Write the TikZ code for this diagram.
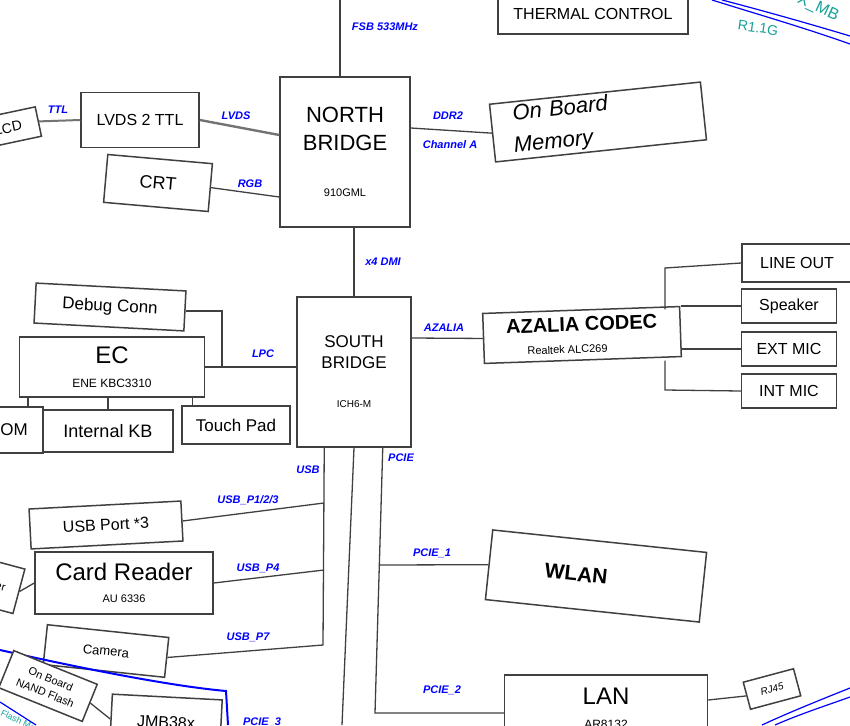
\documentclass[tikz,border=0pt]{standalone}
\usepackage{fontspec}
\setmainfont{Liberation Sans}
\usepackage{xcolor}
\usetikzlibrary{positioning,calc}
\definecolor{revteal}{RGB}{20,160,150}
\newcommand{\fsz}[2]{\fontsize{#1}{#2}\selectfont}

\begin{document}
\begin{tikzpicture}[x=1pt,y=-1pt,
    blk/.style={draw=black!75, line width=1.5pt, fill=white, inner sep=2pt, align=center},
    bus/.style={text=blue, font=\fsz{11}{12}\bfseries\itshape},
    wire/.style={black!75, line width=1.3pt}]
    \useasboundingbox (0,0) rectangle (850,725);
    \clip (0,0) rectangle (850,725);

    % North bridge and its links
    \node[blk, minimum width=130pt, minimum height=150pt, font=\fsz{22}{28}] (nb) at (345,152)
        {NORTH\\BRIDGE\\[18pt]{\fsz{11}{13}910GML}};
    \coordinate (fsb) at (340,0);
    \draw[wire] (fsb) -- (nb.north -| fsb);
    \node[bus] (fsblbl) at (385,27) {FSB 533MHz};

    \node[blk, minimum width=190pt, minimum height=40pt, font=\fsz{16}{18}] (thermal) at (593,14)
        {THERMAL CONTROL};
    \node[text=revteal, rotate=-8, font=\fsz{14}{16}] (rev) at (758,28) {R1.1G};
    \node[text=revteal, rotate=-25, font=\fsz{16}{18}] (mbname) at (818,8) {X\_MB};
    \draw[blue, line width=1.2pt] (712,0) .. controls (760,15) and (805,28) .. (850,44);
    \draw[blue, line width=1.2pt] (722,0) .. controls (768,12) and (810,24) .. (850,36);

    \node[blk, minimum height=58pt, rotate=6, align=left, text width=208pt,
          font=\fsz{22}{32}\itshape] (mem) at (598,122)
        {\hspace*{20pt}On Board\\\hspace*{18pt}Memory};
    \draw[wire] ([yshift=24pt]nb.east) -- (mem.west);
    \node[bus] (ddr) at (448,116) {DDR2};
    \node[bus] (chan) at (450,145) {Channel A};

    % Display side
    \node[blk, minimum width=118pt, minimum height=55pt, font=\fsz{16}{18}] (lvds) at (140,120)
        {LVDS 2 TTL};
    \node[blk, minimum width=62pt, minimum height=30pt, rotate=12, font=\fsz{14}{16}] (lcd) at (8,128)
        {LCD};
    \node[blk, minimum width=105pt, minimum height=48pt, rotate=-5, font=\fsz{18}{20}] (crt) at (158,183)
        {CRT};
    \draw[wire, line width=2pt, black!55] (lcd.east) -- (lvds.west);
    \draw[wire, line width=2.4pt, black!55] (lvds.east) -- ([yshift=17pt]nb.west);
    \draw[wire] (crt.east) -- ([yshift=-45pt]nb.west);
    \node[bus] (ttl) at (58,110) {TTL};
    \node[bus] (lvdslbl) at (236,116) {LVDS};
    \node[bus] (rgb) at (250,184) {RGB};

    % South bridge
    \node[blk, minimum width=114pt, minimum height=150pt, font=\fsz{17}{21}] (sb) at (354,372)
        {SOUTH\\BRIDGE\\[18pt]{\fsz{10}{12}ICH6-M}};
    \draw[wire] (sb.north) -- (sb.north |- nb.south);
    \node[bus] (dmi) at (383,262) {x4 DMI};

    % Audio
    \node[blk, minimum width=197pt, minimum height=50pt, rotate=2, font=\fsz{20}{22}\bfseries] (codec) at (582,335)
        {AZALIA CODEC\\{\fsz{11}{13}\mdseries Realtek ALC269\hspace*{30pt}}};
    \draw[wire] ([yshift=34pt]sb.east) -- (codec.west);
    \node[bus] (azlbl) at (444,328) {AZALIA};

    \node[blk, minimum width=110pt, minimum height=38pt, font=\fsz{16}{18}] (lineout) at (797,263) {LINE OUT};
    \node[blk, minimum width=95pt, minimum height=34pt, font=\fsz{16}{18}] (spk) at (789,306) {Speaker};
    \node[blk, minimum width=95pt, minimum height=34pt, font=\fsz{16}{18}] (extmic) at (789,349) {EXT MIC};
    \node[blk, minimum width=95pt, minimum height=34pt, font=\fsz{16}{18}] (intmic) at (789,391) {INT MIC};
    \coordinate (aup) at (665,268);
    \coordinate (adn) at (665,390);
    \draw[wire] (lineout.west) -- (aup) -- (aup |- codec.north);
    \draw[wire] (spk.west) -- (spk.west -| codec.east);
    \draw[wire] (extmic.west) -- (extmic.west -| codec.east);
    \draw[wire] (intmic.west) -- (adn) -- (adn |- codec.south);

    % EC and friends
    \node[blk, minimum width=150pt, minimum height=40pt, rotate=-3, font=\fsz{17}{19}] (dbg) at (110,307)
        {Debug Conn};
    \node[blk, minimum width=185pt, minimum height=60pt, font=\fsz{24}{24}] (ec) at (112,367)
        {EC\\{\fsz{12}{14}ENE KBC3310}};
    \coordinate (dj) at (222,367);
    \draw[wire] (ec.east) -- (sb.west |- ec.east);
    \draw[wire] (dbg.east) -| (dj);
    \node[bus] (lpc) at (263,354) {LPC};

    \node[blk, minimum width=70pt, minimum height=46pt, font=\fsz{17}{19}] (rom) at (8,430) {ROM};
    \node[blk, minimum width=130pt, minimum height=42pt, font=\fsz{18}{20}] (kb) at (108,431) {Internal KB};
    \node[blk, minimum width=108pt, minimum height=38pt, font=\fsz{17}{19}] (tp) at (236,425) {Touch Pad};
    \coordinate (romj) at (28,408);
    \coordinate (tpj) at ([xshift=11pt]tp.north west);
    \draw[wire] (romj) -- (romj |- ec.south);
    \draw[wire] (kb.north) -- (kb.north |- ec.south);
    \draw[wire] (tpj) -- (tpj |- ec.south);

    % USB side
    \node[blk, minimum width=152pt, minimum height=40pt, rotate=3, font=\fsz{16}{18}] (usbport) at (106,525)
        {USB Port *3};
    \node[blk, minimum width=178pt, minimum height=62pt, font=\fsz{24}{22}] (cardrd) at (124,583)
        {Card Reader\\{\fsz{11}{13}AU 6336}};
    \node[blk, minimum width=64pt, minimum height=46pt, rotate=-15, font=\fsz{11}{13}] (slot) at (-12,583)
        {Reader};
    \node[blk, minimum width=122pt, minimum height=40pt, rotate=-6, font=\fsz{13}{15}] (camera) at (106,651)
        {Camera};
    \coordinate (ut) at ([xshift=28pt]sb.south west);
    \coordinate (ub) at (323,645);
    \coordinate (u1) at (324,503);
    \coordinate (u4) at (324,570);
    \draw[wire] (ut) -- (ub) -- (camera.east);
    \draw[wire] (usbport.east) -- (u1);
    \draw[wire] (cardrd.east) -- (u4);
    \draw[wire] (slot.east) -- (cardrd.west);
    \node[bus] (usb) at (308,470) {USB};
    \node[bus] (usb123) at (248,500) {USB\_P1/2/3};
    \node[bus] (usb4) at (258,568) {USB\_P4};
    \node[bus] (usb7) at (248,637) {USB\_P7};

    % JMicron module
    \draw[blue, line width=2pt] (0,650) .. controls (80,668) and (170,686) .. (226,691) -- (228,725);
    \draw[blue, line width=1.2pt] (0,702) -- (36,725);
    \node[blk, minimum width=90pt, minimum height=40pt, rotate=-22, font=\fsz{11}{15}] (nand) at (48,686)
        {On Board\\NAND Flash};
    \node[text=revteal, rotate=-25, font=\fsz{9}{11}] (flashmod) at (26,724) {Flash Module};
    \node[blk, minimum width=110pt, minimum height=50pt, rotate=-3, font=\fsz{16}{18}] (jmb) at (166,722)
        {JMB38x};
    \draw[wire] (nand.east) -- (jmb.west);
    \node[bus] (pcie3) at (262,722) {PCIE\_3};

    % PCIE side
    \coordinate (mb) at (342,725);
    \draw[wire] (sb.south) -- (mb);
    \coordinate (pt) at ([xshift=-29pt]sb.south east);
    \coordinate (pw) at (379,565);
    \coordinate (pb) at (375,713);
    \node[blk, minimum width=215pt, minimum height=70pt, rotate=-6, font=\fsz{21}{23}\bfseries] (wlan) at (596,576)
        {WLAN\hspace*{40pt}};
    \node[blk, minimum width=203pt, minimum height=66pt, font=\fsz{24}{22}] (lan) at (606,708)
        {LAN\\[2pt]{\fsz{12}{14}AR8132}};
    \node[blk, minimum width=52pt, minimum height=28pt, rotate=15, font=\fsz{10}{12}\itshape] (rj45) at (772,689)
        {RJ45};
    \draw[wire] (pt) -- (pb) -- ([yshift=-5pt]lan.west);
    \draw[wire] (pw) -- (wlan.west);
    \draw[wire] ([yshift=8pt]lan.east) -- (rj45.west);
    \node[bus] (pcie) at (401,458) {PCIE};
    \node[bus] (pcie1) at (432,553) {PCIE\_1};
    \node[bus] (pcie2) at (442,690) {PCIE\_2};
    \draw[blue, line width=1.2pt] (762,725) .. controls (790,712) and (820,700) .. (850,688);
    \draw[blue, line width=1.2pt] (775,725) .. controls (800,714) and (825,706) .. (850,697);
\end{tikzpicture}
\end{document}
